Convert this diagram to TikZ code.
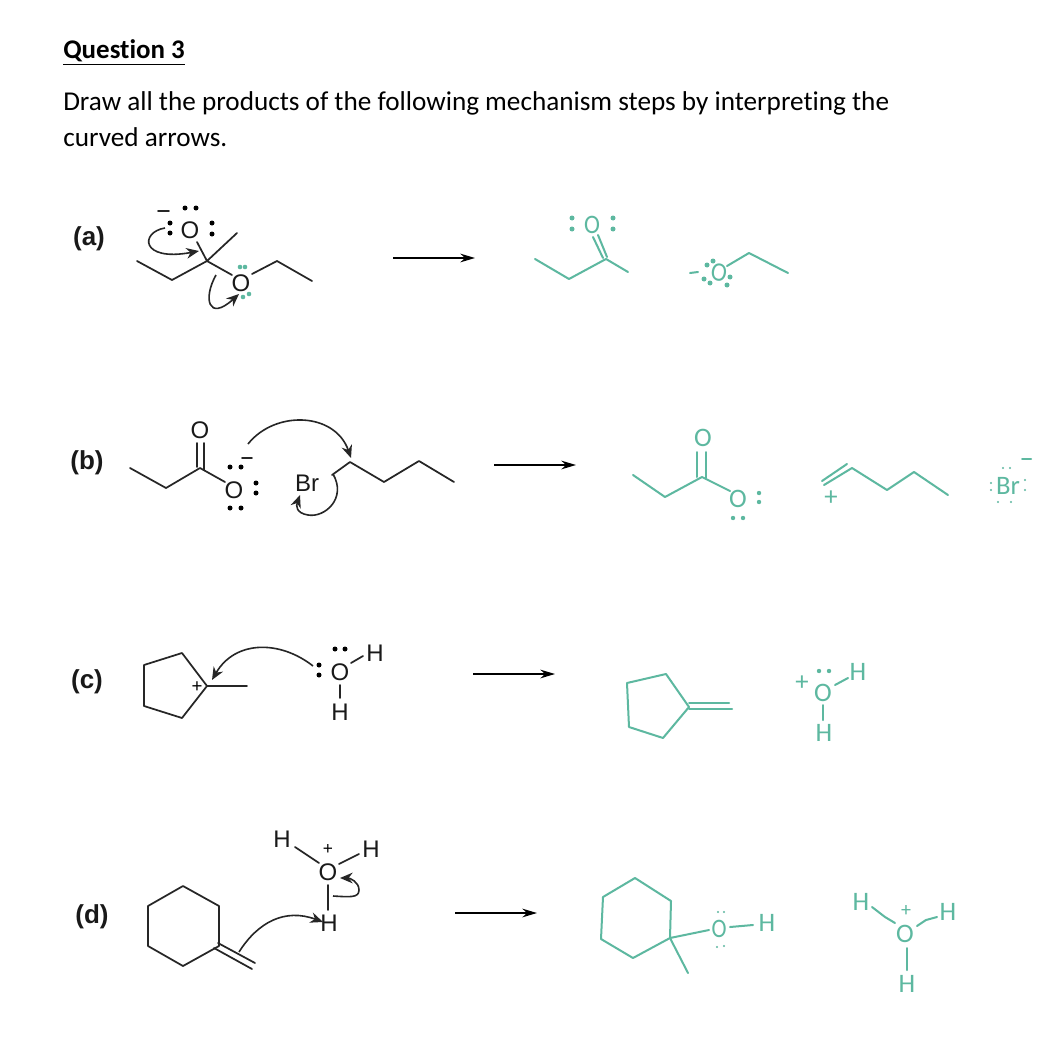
\documentclass[tikz,border=0pt]{standalone}
\usepackage{fontspec}
\setmainfont[Ligatures=CommonOff]{Carlito}
\newfontfamily\atomfont{Liberation Sans}
\usetikzlibrary{arrows.meta}
\definecolor{ans}{HTML}{5DB8A0}
\newcommand{\pxdots}[3]{\foreach \p in {#3} {\fill[#1] \p circle (#2);}}
\tikzset{
  x=0.75pt, y=-0.75pt,
  bond/.style={black!85, line width=1.3pt, line cap=round, line join=round},
  ansbond/.style={ans, line width=1.5pt, line cap=round, line join=round},
  curly/.style={black!85, line width=1.2pt, -{Stealth[length=9.5pt,width=8pt]}},
  rxn/.style={black, line width=1.05pt, -{Stealth[length=11pt,width=6.5pt]}},
  atom/.style={inner sep=0pt, font=\atomfont\fontsize{18}{20}\selectfont, text=black!90},
  ansatom/.style={inner sep=0pt, font=\fontsize{20}{22}\selectfont, text=ans},
  anscharge/.style={inner sep=0pt, font=\fontsize{15}{16}\selectfont, text=ans},
  head/.style={inner sep=0pt, anchor=base west, font=\fontsize{20.4}{24}\selectfont, text=black},
  qlabel/.style={inner sep=0pt, font=\atomfont\bfseries\fontsize{19.5}{22}\selectfont, text=black!90},
}
\begin{document}
\begin{tikzpicture}
\useasboundingbox (0,0) rectangle (1061,1063);
\fill[white] (0,0) rectangle (1061,1063);

% headings
\node[head] (q) at (63,59) {\fontsize{20.2}{24}\selectfont\textbf{\underline{Question 3}}};
\node[head] (l1) at (63,110) {Draw all the products of the following mechanism steps by interpreting the};
\node[head] (l2) at (63,146) {curved arrows.};
\node[qlabel] (la) at (89,239) {(a)};
\node[qlabel] (lb) at (87,463) {(b)};
\node[qlabel] (lc) at (87,682) {(c)};
\node[qlabel] (ld) at (92,917) {(d)};

% reaction arrows
\foreach \n/\xa/\xb/\yy in {a/393/475/258, b/494/576/465, c/473/555/674, d/455/537/913} {
  \coordinate (ra\n) at (\xa,\yy);
  \coordinate (rb\n) at (\xb,\yy);
  \draw[rxn] (ra\n) -- (rb\n);
}

%% (a) reactant
\node[atom] (aO1) at (190,230) {O};
\node[atom] (aO2) at (241,283) {O};
\pxdots{black}{2.5}{(185,208),(196,208),(170,223),(170,233),(212,223),(212,234)}
\pxdots{ans}{2.3}{(240,267),(245,267),(243,297),(249,294)}
\draw[bond] (158,211) -- (169,211);
\coordinate (aC) at (207,261);
\draw[bond] (197,242) -- (aC) -- (237,233);
\draw[bond] (137,261) -- (172,280) -- (aC) -- (232,275);
\draw[bond] (252,274) -- (277,261) -- (312,281);
\draw[curly] (165,228) .. controls (140,232) and (140,262) .. (199,251);
\draw[curly] (216,275) .. controls (203,298) and (208,322) .. (239,294);

%% (a) product
\node[ansatom, xscale=0.9] (apO1) at (592,225) {O};
\node[ansatom, xscale=0.9, rotate=-10] (apO2) at (719,273) {O};
\pxdots{ans}{2.5}{(572,218),(572,229),(613,218),(613,229),(707,265),(713,261),(704,279),(710,283),(730,277),(727,285)}
\draw[ansbond] (593,237) -- (603,258);
\draw[ansbond] (598,235) -- (607,257);
\draw[ansbond] (535,259) -- (569,279) -- (606,259) -- (628,272);
\draw[ansbond] (727,266) -- (749,253) -- (788,273);
\draw[ansbond] (690,273) -- (698,272);

%% (b) reactant
\node[atom] (bO1) at (200,430) {O};
\node[atom] (bO2) at (234,490) {O};
\node[atom] (bBr) at (307,483) {Br};
\pxdots{black}{2.5}{(230,467),(241,467),(230,508),(241,508),(256,483),(256,493)}
\draw[bond] (130,468) -- (166,488) -- (200,468) -- (225,482);
\draw[bond] (197,443) -- (197,467);
\draw[bond] (204,443) -- (204,470);
\draw[bond] (242,458) -- (252,458);
\draw[bond] (332,475) -- (350,462) -- (384,482) -- (419,461) -- (454,482);
\draw[curly] (248,444) .. controls (275,410) and (335,412) .. (351,458);
\draw[curly] (333,474) .. controls (347,498) and (325,518) .. (308,515) .. controls (296,513) and (296,506) .. (300,495);

%% (b) product
\node[ansatom] (bpO1) at (703,438) {O};
\node[ansatom] (bpO2) at (738,499) {O};
\node[ansatom] (bpBr) at (1008,486) {Br};
\node[ansatom] (bpP) at (831,498) {+};
\pxdots{ans}{2.2}{(759,493),(759,502),(733,518),(743,518)}
\pxdots{ans}{1.2}{(1003,468),(1010,468),(991,483),(991,490),(1025,480),(1025,490),(998,502),(1011,502)}
\draw[ansbond] (633,475) -- (665,497) -- (702,477) -- (730,491);
\draw[ansbond] (697,452) -- (697,477);
\draw[ansbond] (706,452) -- (706,478);
\draw[ansbond] (822,481) -- (847,464);
\draw[ansbond] (824,485) -- (852,468) -- (887,490) -- (914,472) -- (948,495);
\draw[ansbond] (1022,459) -- (1031,459);

%% (c) reactant
\node[atom] (cO) at (340,672) {O};
\node[atom] (cH1) at (375,653) {H};
\node[atom] (cH2) at (340,712) {H};
\node[inner sep=0pt, font=\atomfont\fontsize{14}{14}\selectfont] (cP) at (197,687) {+};
\pxdots{black}{2.5}{(335,649),(345,649),(319,665),(319,675)}
\draw[bond] (207,686) -- (182,653) -- (144,665) -- (144,706) -- (182,718) -- cycle;
\draw[bond] (207,686) -- (247,686);
\draw[bond] (351,663) -- (363,656);
\draw[bond] (340,685) -- (340,698);
\draw[curly] (313,666) .. controls (280,640) and (235,640) .. (212,680);

%% (c) product
\node[ansatom] (cpO) at (823,693) {O};
\node[ansatom] (cpH1) at (858,672) {H};
\node[ansatom] (cpH2) at (824,733) {H};
\node[ansatom] (cpP) at (802,683) {+};
\pxdots{ans}{2.2}{(819,671),(829,671)}
\draw[ansbond] (689,707) -- (666,674) -- (627,683) -- (629,727) -- (663,738) -- cycle;
\draw[ansbond] (689,703) -- (729,703);
\draw[ansbond] (689,709) -- (732,709);
\draw[ansbond] (835,685) -- (848,678);
\draw[ansbond] (823,705) -- (823,720);

%% (d) reactant
\node[atom] (dO) at (328,872) {O};
\node[atom] (dH1) at (282,839) {H};
\node[atom] (dH2) at (371,849) {H};
\node[atom] (dH3) at (329,923) {H};
\node[inner sep=0pt, font=\atomfont\fontsize{13}{13}\selectfont] (dP) at (328,849) {+};
\draw[bond] (183,886) -- (219,906) -- (219,946) -- (183,966) -- (148,946) -- (148,906) -- cycle;
\draw[bond] (218,943) -- (255,963);
\draw[bond] (214,948) -- (252,969);
\draw[bond] (295,847) -- (319,863);
\draw[bond] (339,864) -- (359,854);
\draw[bond] (328,885) -- (328,910);
\draw[curly] (239,952) .. controls (258,922) and (285,908) .. (323,922);
\draw[curly] (333,896) .. controls (350,897) and (359,898) .. (359,890) .. controls (359,882) and (350,878) .. (340,878);

%% (d) product
\node[ansatom, xscale=0.85] (dpO) at (719,929) {O};
\node[ansatom] (dpH) at (767,923) {H};
\node[ansatom] (dpO2) at (905,934) {O};
\node[ansatom] (dpH1) at (861,902) {H};
\node[ansatom] (dpH2) at (948,912) {H};
\node[ansatom] (dpH3) at (907,984) {H};
\node[anscharge] (dpP) at (906,911) {+};
\pxdots{ans}{1.2}{(718,912),(724,912),(717,947),(724,946)}
\draw[ansbond] (635,878) -- (671,901) -- (670,938) -- (633,958) -- (601,939) -- (603,897) -- cycle;
\draw[ansbond] (688,973) -- (670,938) -- (709,930);
\draw[ansbond] (730,927) -- (753,925);
\draw[ansbond] (872,907) -- (885,917) -- (895,923);
\draw[ansbond] (917,926) -- (926,920) -- (937,917);
\draw[ansbond] (907,948) -- (907,970);
\end{tikzpicture}
\end{document}
